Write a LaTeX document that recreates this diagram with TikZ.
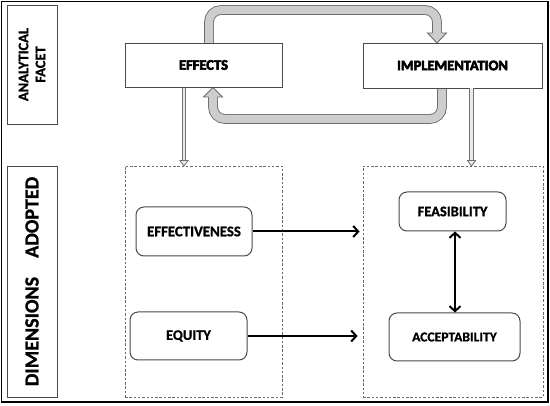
\documentclass[tikz,border=0pt]{standalone}
\usepackage{fontspec}
\setmainfont{Carlito}
\newfontfamily\heavyfont{Carlito Bold}[FakeBold=4]
\newfontfamily\boldish{Carlito Bold}[FakeBold=1]
\usetikzlibrary{arrows.meta}
\definecolor{bandfill}{HTML}{CDCDCD}
\definecolor{banddraw}{HTML}{6E6E6E}
\definecolor{boxdraw}{HTML}{4A4A4A}
\definecolor{dashdraw}{HTML}{6A6A6A}
\tikzset{
  facetbox/.style={draw=boxdraw, line width=0.9pt, fill=white, inner sep=0pt},
  facettext/.style={rotate=90, align=center, inner sep=0pt},
  mainbox/.style={draw=boxdraw, line width=0.9pt, fill=white, inner sep=0pt, font=\heavyfont\fontsize{14.5}{17}\selectfont},
  dimbox/.style={draw=boxdraw, line width=1pt, fill=white, rounded corners=8pt, inner sep=0pt, font=\boldish\fontsize{14.5}{17}\selectfont},
  dashbox/.style={draw=dashdraw, line width=0.9pt, dash pattern=on 2.5pt off 1.8pt, inner sep=0pt},
  bandline/.style={draw=banddraw, double=bandfill, double distance=8pt, line width=0.9pt, rounded corners=12pt},
  headfill/.style={fill=bandfill},
  headline/.style={draw=banddraw, line width=0.9pt, line join=miter},
  thinshaft/.style={draw=banddraw, double=white!85!gray, double distance=2.8pt, line width=0.8pt},
  thinhead/.style={draw=banddraw, fill=white!85!gray, line width=0.8pt},
  blackarrow/.style={line width=2pt, -{Straight Barb[length=5pt,width=11pt,line width=2pt]}},
  blackdouble/.style={line width=2pt, {Straight Barb[length=5pt,width=11pt,line width=2pt]}-{Straight Barb[length=5pt,width=11pt,line width=2pt]}}
}
\begin{document}
\begin{tikzpicture}[x=1pt,y=-1pt]
\useasboundingbox (0,0) rectangle (550,406);
\node[draw=black, line width=1.6pt, minimum width=546.5pt, minimum height=400.5pt, inner sep=0pt] (frame) at (274.75,201.75) {};

% big gray loops (drawn under boxes)
\draw[bandline] (209,46) -- (209,10) -- (437,10) -- (437,33.5);
\fill[headfill] (427.5,33) -- (437,43) -- (446.5,33) -- cycle;
\draw[headline] (432.6,33) -- (427.5,33) -- (437,43) -- (446.5,33) -- (441.4,33);

\draw[bandline] (442,86) -- (442,119) -- (213,119) -- (213,96.5);
\fill[headfill] (203.5,97) -- (213,87.5) -- (222.5,97) -- cycle;
\draw[headline] (208.6,97) -- (203.5,97) -- (213,87.5) -- (222.5,97) -- (217.4,97);

% facet boxes
\node[facetbox, minimum width=50pt, minimum height=119pt] (facet) at (32,64.5) {};
\node[facettext, font=\boldish\fontsize{14.5}{17}\selectfont] (facetlabel) at (facet.center) {ANALYTICAL\\FACET};
\node[facetbox, minimum width=50pt, minimum height=231pt] (dims) at (32,281.5) {};
\node[facettext, font=\boldish\fontsize{20}{24}\selectfont] (dimslabel) at (dims.center) {DIMENSIONS\hspace{19pt}ADOPTED};

% analytical boxes
\node[mainbox, minimum width=157pt, minimum height=44pt] (effects) at (203.5,65) {EFFECTS};
\node[mainbox, minimum width=179pt, minimum height=45pt] (impl) at (452.5,65.5) {IMPLEMENTATION};

% dashed containers
\node[dashbox, minimum width=157pt, minimum height=231pt] (dashL) at (203.5,281.5) {};
\node[dashbox, minimum width=180pt, minimum height=231pt] (dashR) at (453,281.5) {};

% thin gray arrows
\coordinate (tA) at (184,88);
\coordinate (tB) at (471.5,88);
\draw[thinshaft] (tA) -- (tA |- 0,161);
\draw[thinhead] (180,160.5) -- (184,166) -- (188,160.5) -- cycle;
\draw[thinshaft] (tB) -- (tB |- 0,161);
\draw[thinhead] (467.5,160.5) -- (471.5,166) -- (475.5,160.5) -- cycle;

% dimension boxes
\node[dimbox, minimum width=116pt, minimum height=49pt, font=\boldish\fontsize{14.8}{17}\selectfont] (effect) at (194,231.5) {EFFECTIVENESS};
\node[dimbox, minimum width=117pt, minimum height=48pt] (equity) at (188.5,336) {EQUITY};
\node[dimbox, minimum width=107pt, minimum height=39pt] (feas) at (452.5,211.5) {FEASIBILITY};
\node[dimbox, minimum width=131pt, minimum height=48pt, font=\boldish\fontsize{13.6}{16}\selectfont] (accept) at (454.5,337) {ACCEPTABILITY};

% black arrows
\draw[blackarrow, shorten >=3pt] (effect.east) -- (effect.east -| dashR.west);
\draw[blackarrow, shorten >=5pt] (equity.east) -- (equity.east -| dashR.west);
\coordinate (dA) at (455,231);
\draw[blackdouble] (feas.south -| dA) -- (accept.north -| dA);
\end{tikzpicture}
\end{document}
